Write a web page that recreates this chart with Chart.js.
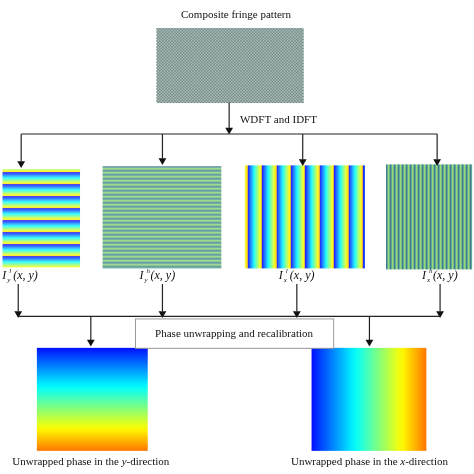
<!DOCTYPE html>
<html>
<head>
<meta charset="utf-8">
<script src="https://cdn.jsdelivr.net/npm/chart.js@4"></script>
<style>
  html, body { margin: 0; padding: 0; background: #fff; }
  #wrap { width: 474px; height: 474px; }
</style>
</head>
<body>
<div id="wrap"><canvas id="flow" width="474" height="474"></canvas></div>
<script>
// ---- diagram content ----
const titleText = 'Composite fringe pattern';
const stepLabels = ['WDFT and IDFT', 'Phase unwrapping and recalibration'];
const fringeSubs = ['y', 'y', 'x', 'x'];
const fringeSups = ['l', 'h', 'l', 'h'];
const resultLabels = ['y', 'x'];

// ---- layout (pixel space, y down) ----
const fringeBoxes = [[-2, 168, 77, 267], [100, 165, 221, 268], [245, 164, 367, 269], [389, 163, 476, 270]];
const fringeKind = ['hJet', 'hThin', 'vJet', 'vThin'];
const labelX = [18, 158, 300, 446];
const resultBoxes = [[33, 350, 146, 455], [313, 350, 430, 455]];
const resultX = [88, 372];

function jet(t) {
  t = Math.max(0, Math.min(1, t));
  const r = Math.max(0, Math.min(1, 1.5 - Math.abs(4 * t - 3)));
  const g = Math.max(0, Math.min(1, 1.5 - Math.abs(4 * t - 2)));
  const b = Math.max(0, Math.min(1, 1.5 - Math.abs(4 * t - 1)));
  return 'rgb(' + Math.round(r * 255) + ',' + Math.round(g * 255) + ',' + Math.round(b * 255) + ')';
}

// connector lines
const lines = [
  [[229, 100], [229, 126]],
  [[17, 132], [441, 132]],
  [[17, 132], [17, 160]], [[161, 132], [161, 157]], [[304, 132], [304, 158]], [[441, 132], [441, 158]],
  [[14, 285], [14, 313]], [[161, 285], [161, 313]], [[298, 285], [298, 313]], [[444, 285], [444, 313]],
  [[14, 318], [444, 318]],
  [[88, 318], [88, 342]], [[372, 318], [372, 342]]
];
const heads = [[229, 128], [17, 162], [161, 159], [304, 160], [441, 160],
  [14, 315], [161, 315], [298, 315], [444, 315], [88, 344], [372, 344]];

const datasets = lines.map(function(l) {
  return {
    type: 'line',
    data: l.map(function(p) { return { x: p[0], y: p[1] }; }),
    borderColor: '#222', borderWidth: 1.2, pointRadius: 0, fill: false
  };
});
datasets.push({
  type: 'scatter',
  data: heads.map(function(p) { return { x: p[0], y: p[1] }; }),
  pointStyle: 'triangle', rotation: 180, pointRadius: 4.5,
  backgroundColor: '#111', borderColor: '#111', borderWidth: 0
});

const artPlugin = {
  id: 'art',
  beforeDatasetsDraw: function(chart) {
    const ctx = chart.ctx;
    const sx = chart.scales.x, sy = chart.scales.y;
    const px = function(v) { return sx.getPixelForValue(v); };
    const py = function(v) { return sy.getPixelForValue(v); };
    ctx.save();

    // composite fringe
    const cx0 = px(155), cx1 = px(304), cy0 = py(24), cy1 = py(100);
    for (let x = cx0; x < cx1; x++) {
      for (let y = cy0; y < cy1; y++) {
        const a = (Math.floor(x) % 3 === 0) ? 1 : 0;
        const b = (Math.floor(y) % 3 === 0) ? 1 : 0;
        ctx.fillStyle = a && b ? '#c8d8d0' : (a || b ? '#3e5a58' : '#7d9a92');
        ctx.fillRect(x, y, 1, 1);
      }
    }

    // fringe panels (wrapped phase: sawtooth through jet)
    fringeBoxes.forEach(function(b, i) {
      const x0 = px(b[0]), x1 = px(b[2]), y0 = py(b[1]), y1 = py(b[3]);
      const kind = fringeKind[i];
      if (kind === 'hJet' || kind === 'hThin') {
        for (let y = y0; y < y1; y++) {
          let col;
          if (kind === 'hJet') col = jet(((y - y0 + 9) % 12) / 12 * 0.58 + 0.12);
          else col = ['#3a6f8a', '#4fa58a', '#8fd16a', '#5fb87e'][Math.floor(y - y0) % 4];
          ctx.fillStyle = col;
          ctx.fillRect(x0, y, x1 - x0, 1);
        }
      } else {
        for (let x = x0; x < x1; x++) {
          let col;
          if (kind === 'vJet') col = jet(((x - x0 + 12) % 14.4) / 14.4 * 0.58 + 0.12);
          else col = ['#2f6a86', '#4fa58a', '#92d36a', '#5fb87e'][Math.floor(x - x0) % 4];
          ctx.fillStyle = col;
          ctx.fillRect(x, y0, 1, y1 - y0);
        }
      }
    });

    // unwrapped results
    resultBoxes.forEach(function(b, i) {
      const x0 = px(b[0]), x1 = px(b[2]), y0 = py(b[1]), y1 = py(b[3]);
      const g = i === 0 ? ctx.createLinearGradient(0, y0, 0, y1) : ctx.createLinearGradient(x0, 0, x1, 0);
      for (let k = 0; k <= 20; k++) g.addColorStop(k / 20, jet(0.14 + 0.62 * k / 20));
      ctx.fillStyle = g;
      ctx.fillRect(x0, y0, x1 - x0, y1 - y0);
    });

    // process box
    ctx.fillStyle = '#fff';
    ctx.strokeStyle = '#999';
    ctx.lineWidth = 1;
    ctx.fillRect(px(133), py(320), px(335) - px(133), py(350) - py(320));
    ctx.strokeRect(px(133) + 0.5, py(320) + 0.5, px(335) - px(133), py(350) - py(320));

    // texts
    ctx.fillStyle = '#111';
    ctx.textBaseline = 'middle';
    ctx.textAlign = 'center';
    ctx.font = '11px "Liberation Serif"';
    ctx.fillText(titleText, px(236), py(11));
    ctx.textAlign = 'left';
    ctx.fillText(stepLabels[0], px(240), py(118));
    ctx.textAlign = 'center';
    ctx.fillText(stepLabels[1], px(234), py(336));

    fringeSubs.forEach(function(s, i) {
      const x = px(labelX[i]) - 20, y = py(277);
      ctx.textAlign = 'left';
      ctx.font = 'italic 12px "Liberation Serif"';
      ctx.fillText('I', x, y);
      ctx.font = 'italic 7px "Liberation Serif"';
      ctx.fillText(s, x + 5, y + 4);
      ctx.fillText(fringeSups[i], x + 7, y - 5);
      ctx.font = 'italic 12px "Liberation Serif"';
      ctx.fillText('(x, y)', x + 11, y);
    });

    resultLabels.forEach(function(d, i) {
      const parts = ['Unwrapped phase in the ', d, '-direction'];
      ctx.font = '11px "Liberation Serif"';
      const w0 = ctx.measureText(parts[0]).width, w2 = ctx.measureText(parts[2]).width;
      ctx.font = 'italic 11px "Liberation Serif"';
      const w1 = ctx.measureText(d).width;
      let x = px(resultX[i]) - (w0 + w1 + w2) / 2;
      const y = py(466);
      ctx.textAlign = 'left';
      ctx.font = '11px "Liberation Serif"';
      ctx.fillText(parts[0], x, y); x += w0;
      ctx.font = 'italic 11px "Liberation Serif"';
      ctx.fillText(d, x, y); x += w1;
      ctx.font = '11px "Liberation Serif"';
      ctx.fillText(parts[2], x, y);
    });
    ctx.restore();
  }
};

new Chart(document.getElementById('flow').getContext('2d'), {
  type: 'scatter',
  data: { datasets: datasets },
  options: {
    responsive: false,
    animation: false,
    layout: { padding: 0 },
    plugins: { legend: { display: false }, tooltip: { enabled: false } },
    scales: {
      x: { type: 'linear', min: 0, max: 474, display: false },
      y: { type: 'linear', min: 0, max: 474, reverse: true, display: false }
    }
  },
  plugins: [artPlugin]
});
</script>
</body>
</html>
